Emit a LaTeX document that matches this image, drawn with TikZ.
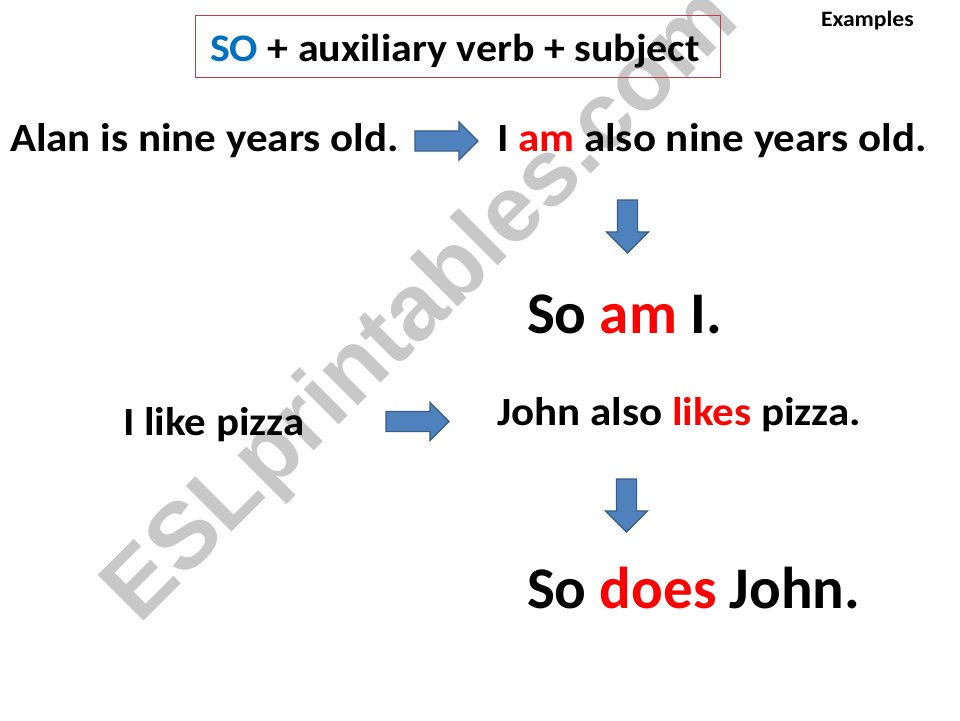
\documentclass[tikz,border=0pt]{standalone}
\usepackage{fontspec}
\usepackage{tikz}
\usetikzlibrary{shapes.arrows}
\setmainfont{Carlito}
\newfontfamily\markfont{Liberation Sans}

\begin{document}
\begin{tikzpicture}[x=1pt, y=-1pt,
    inner sep=0pt, outer sep=0pt,%
    line/.style={font=\bfseries\fontsize{40}{48}\selectfont, anchor=base west, xscale=1.075},
    answer/.style={font=\bfseries\fontsize{59}{70}\selectfont, anchor=base west},
    blockarrow/.style={single arrow, draw=arrowedge, fill=arrowblue, line width=1.2pt,
        minimum height=63pt, single arrow head extend=9pt, inner xsep=0pt, inner ysep=9.5pt},
    down_arrow/.style={blockarrow, rotate=-90, minimum height=53pt,
        single arrow head extend=11pt},
]
    % Colors
    \definecolor{arrowblue}{RGB}{79,129,189}
    \definecolor{arrowedge}{RGB}{56,93,138}
    \definecolor{soblue}{RGB}{0,112,192}
    \definecolor{boxred}{RGB}{192,60,70}
    \definecolor{markgray}{RGB}{200,200,200}

    % Frame
    \useasboundingbox[fill=white] (0,0) rectangle (960,720);

    % Watermark
    \node[font=\markfont\bfseries\fontsize{94}{110}\selectfont, text=markgray, rotate=45] (mark)
        at (423,307) {ESLprintables.com};

    % Title
    \draw[boxred, line width=0.8pt] (195,15) rectangle (720,77);
    \node[font=\bfseries\fontsize{39}{47}\selectfont, anchor=base, xscale=1.075] (title) at (455,61)
        {\textcolor{soblue}{SO} + auxiliary verb + subject};
    \node[font=\bfseries\fontsize{22}{26}\selectfont, anchor=base west, xscale=1.075] (examples)
        at (821,26) {Examples};

    % First example
    \node[line] (alan) at (10,151) {Alan is nine years old.};
    \node[line] (also) at (497,151) {I \textcolor{red}{am} also nine years old.};
    \node[blockarrow] (arrowA) at (441.5,141) {};
    \node[down_arrow] (arrowB) at (627.5,221.5) {};
    \node[answer] (soam) at (527,333) {So \textcolor{red}{am} I.};

    % Second example
    \node[line] (pizza) at (123,435) {I like pizza};
    \node[line] (john) at (497,425) {John also \textcolor{red}{likes} pizza.};
    \node[blockarrow] (arrowC) at (412.5,421.5) {};
    \node[down_arrow] (arrowD) at (626.5,500.5) {};
    \node[answer] (sodoes) at (527,608) {So \textcolor{red}{does} John.};
\end{tikzpicture}
\end{document}
